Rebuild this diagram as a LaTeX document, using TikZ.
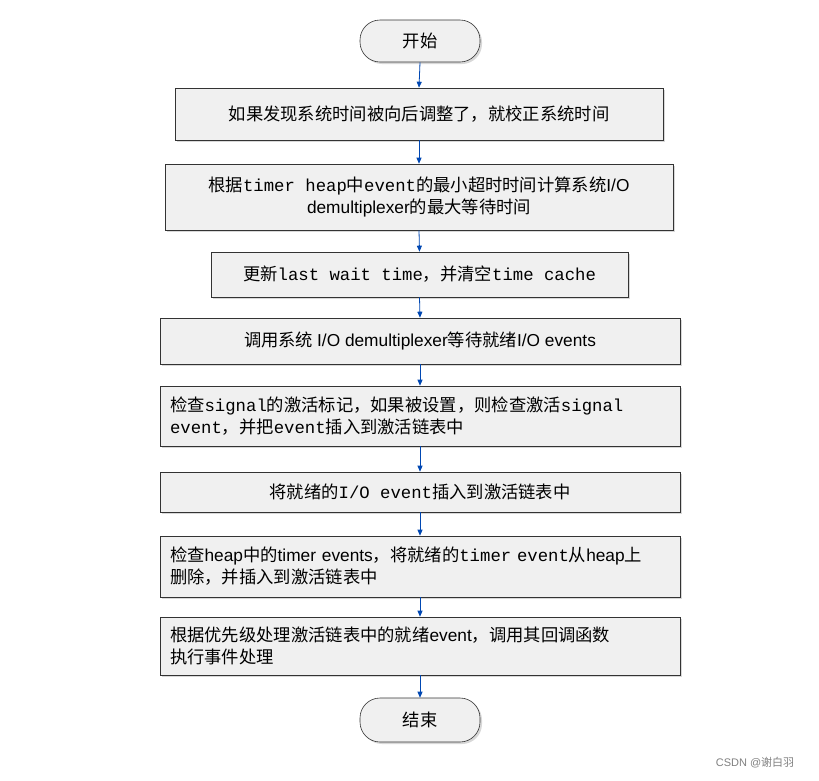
\documentclass[tikz,border=0pt]{standalone}
\usepackage{fontspec}
\setmainfont{Noto Sans CJK SC}
\setmonofont{Liberation Mono}
\setsansfont{Liberation Sans}
\usetikzlibrary{shadows,arrows.meta}
\begin{document}
\begin{tikzpicture}[x=1pt,y=-1pt,
  box/.style={draw=black!80,fill=gray!12,drop shadow={shadow xshift=2pt,shadow yshift=-2pt,fill=gray!60},line width=0.6pt,align=center,font=\fontsize{17.3}{22}\selectfont,inner sep=2pt},
  lbox/.style={box,align=left,text width=500pt},
  pill/.style={box,rounded corners=20pt},
  arr/.style={-{Triangle[length=6pt,width=5pt]},draw=blue!60!cyan!70!black,line width=0.8pt}]
\useasboundingbox (0,0) rectangle (819,780);
\def\b#1#2#3#4#5#6{\node[#6,minimum width=#3-#1,minimum height=#4-#2] (#5) at ({(#1+#3)/2},{(#2+#4)/2})}
\b{360}{20}{480}{62}{s}{pill}{开始};
\b{175}{88}{663}{140}{b1}{box}{如果发现系统时间被向后调整了，就校正系统时间};
\b{165}{164}{673}{230}{b2}{box}{根据\texttt{timer heap}中\texttt{event}的最小超时时间计算系统\textsf{I/O}\\\textsf{demultiplexer}的最大等待时间};
\b{211}{252}{628}{297}{b3}{box}{更新\texttt{last wait time}，并清空\texttt{time cache}};
\b{160}{318}{680}{364}{b4}{box}{调用系统 \textsf{I/O demultiplexer}等待就绪\textsf{I/O events}};
\b{160}{386}{680}{446}{b5}{lbox}{检查\texttt{signal}的激活标记，如果被设置，则检查激活\texttt{signal}\\\texttt{event}，并把\texttt{event}插入到激活链表中};
\b{160}{472}{680}{512}{b6}{box}{将就绪的\texttt{I/O event}插入到激活链表中};
\b{160}{536}{680}{597}{b7}{lbox}{检查\textsf{heap}中的\textsf{timer events}，将就绪的\texttt{timer event}从\textsf{heap}上\\删除，并插入到激活链表中};
\b{160}{617}{680}{675}{b8}{lbox}{根据优先级处理激活链表中的就绪\textsf{event}，调用其回调函数\\执行事件处理};
\b{360}{698}{480}{742}{e}{pill}{结束};
\foreach \u/\v in {s/b1,b1/b2,b2/b3,b3/b4,b4/b5,b5/b6,b6/b7,b7/b8,b8/e}
  \draw[arr] (\u.south) -- (\v.north);
\node[font=\fontsize{11}{13}\selectfont,text=gray] (wm) at (755,763) {\textsf{CSDN @}谢白羽};
\end{tikzpicture}
\end{document}
